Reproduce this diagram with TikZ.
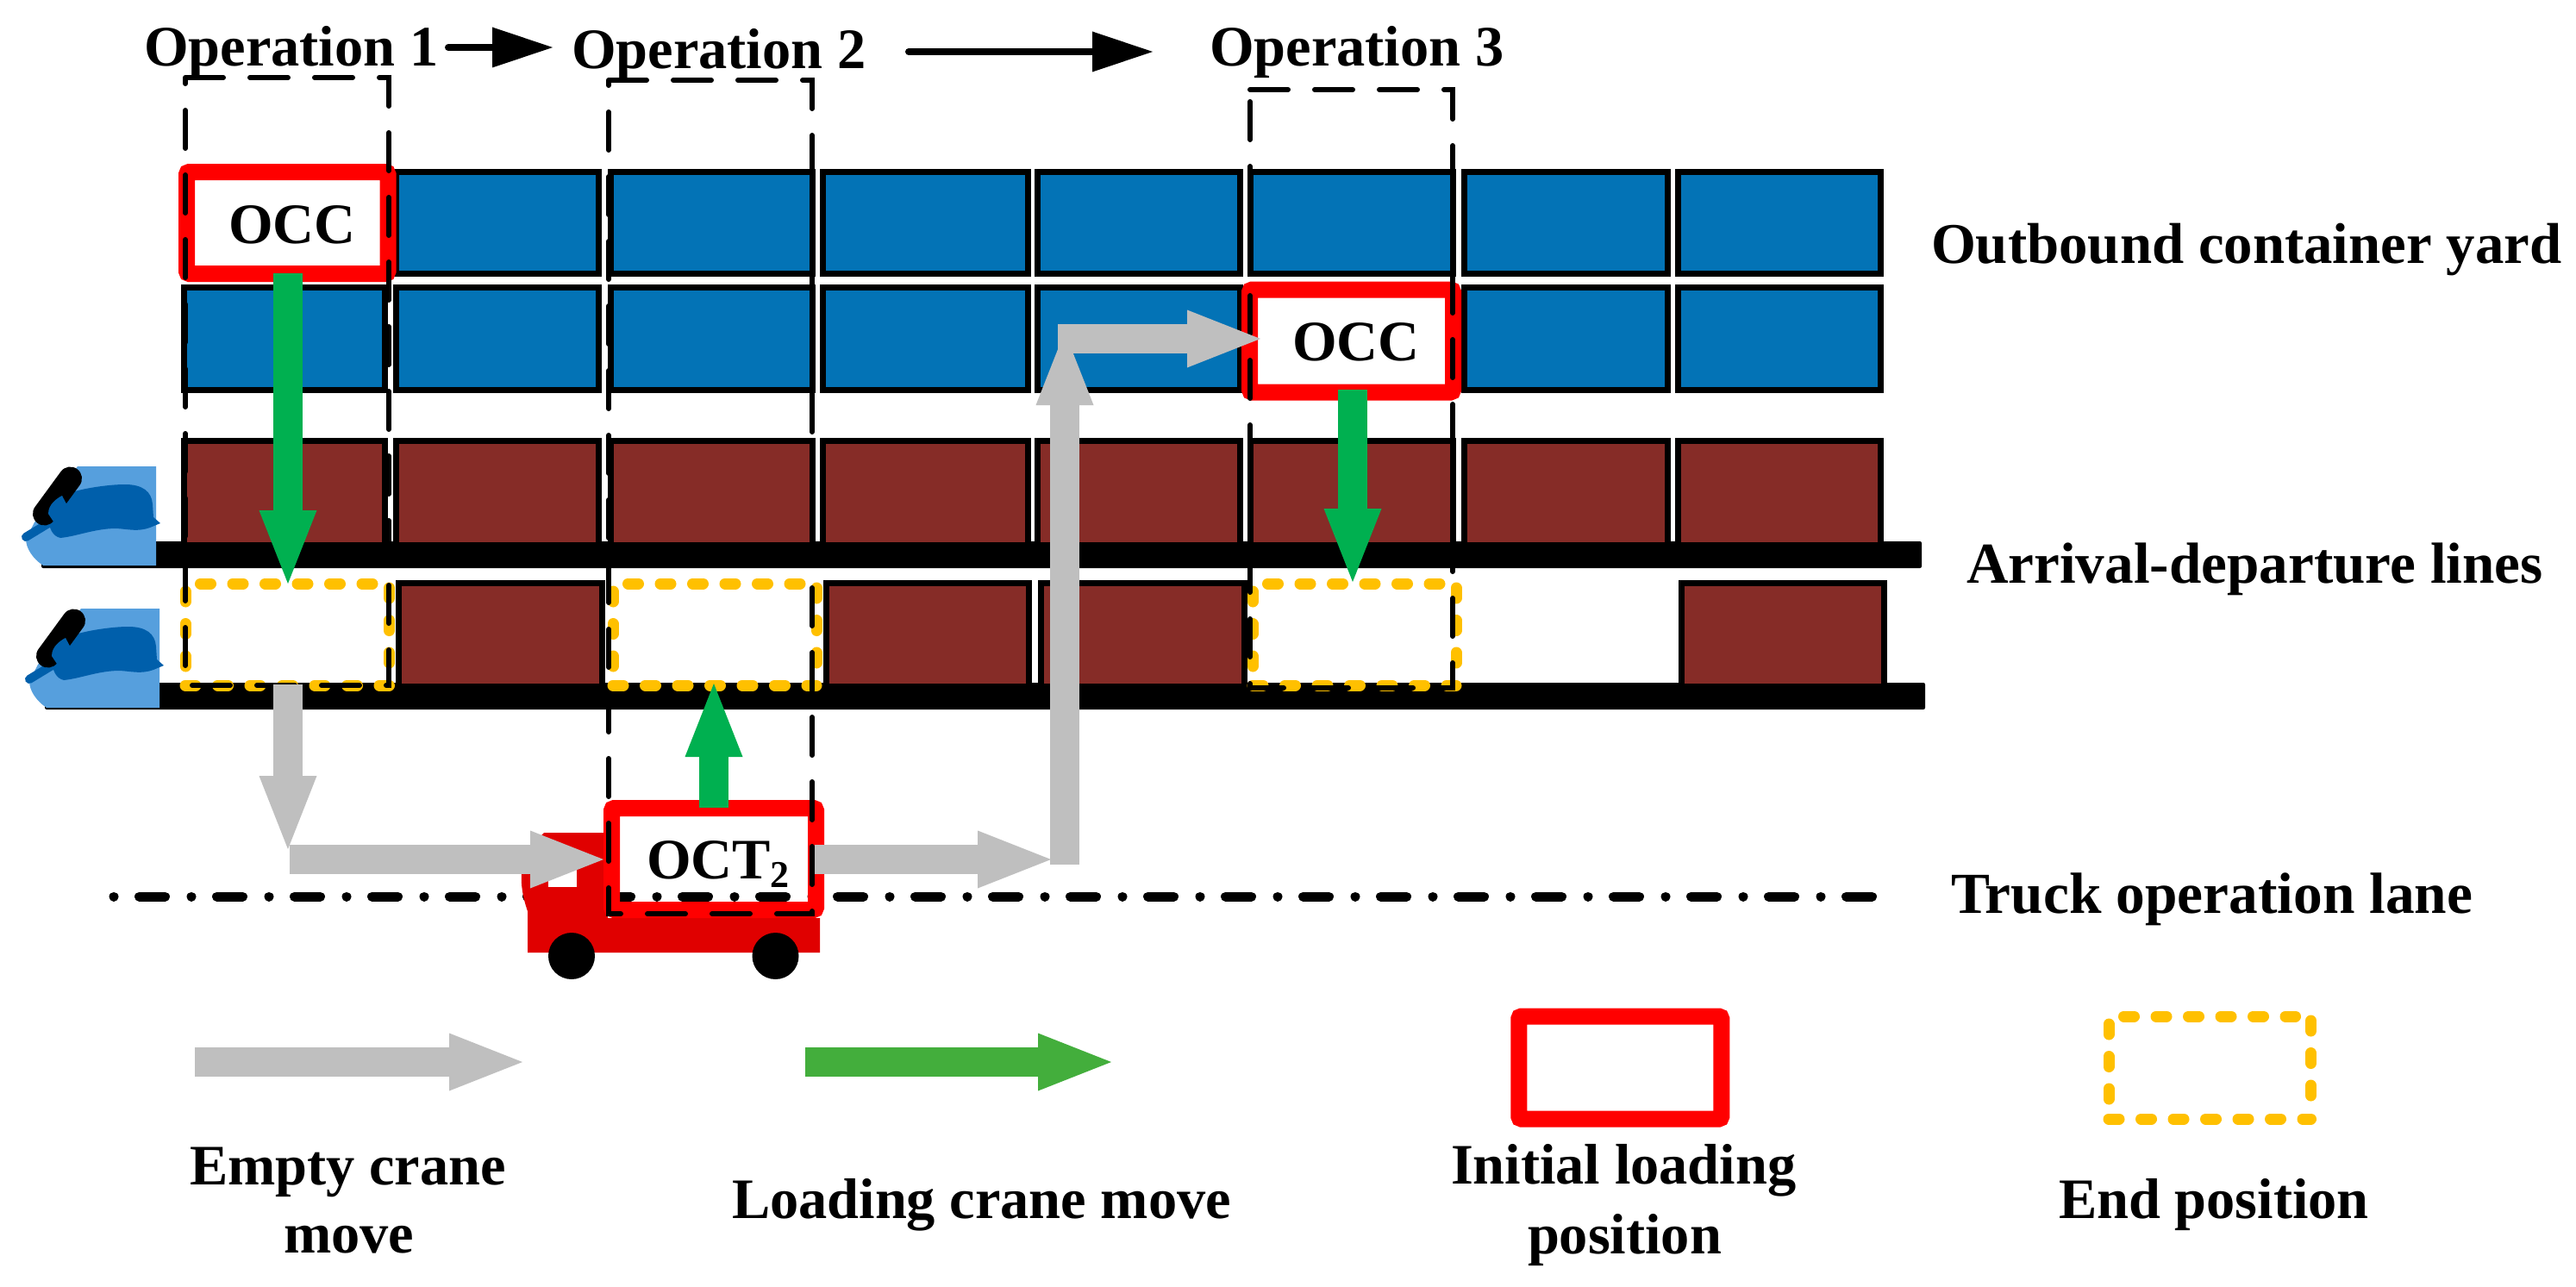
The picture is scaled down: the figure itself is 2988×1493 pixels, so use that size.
\documentclass[tikz,border=0pt]{standalone}
\usepackage{fontspec}
\setmainfont{Liberation Serif}
\usetikzlibrary{arrows.meta}
\definecolor{cblue}{HTML}{0373B6}
\definecolor{cbrown}{HTML}{862C27}
\definecolor{cgreen}{HTML}{00B050}
\definecolor{cgreenb}{HTML}{43AE3C}
\definecolor{cgrey}{HTML}{BFBFBF}
\definecolor{cyellow}{HTML}{FFC000}
\definecolor{ctruck}{HTML}{E00000}
\definecolor{ctrainl}{HTML}{569FDD}
\definecolor{ctraind}{HTML}{005FAB}
\tikzset{
  x=0.5pt,y=-0.5pt,
  lab/.style={anchor=base west,inner sep=0pt,outer sep=0pt,font=\bfseries\fontsize{33.2}{36}\selectfont},
  cont/.style={draw=black,line width=3.25pt},
  railway/.style={fill=black,rounded corners=1pt},
  opbox/.style={draw=black,line width=3pt,line cap=round,dash pattern=on 22pt off 15.5pt},
  endside/.style={draw=cyellow,line width=6.5pt,line cap=round,dash pattern=on 6pt off 12.75pt},
  redframe/.style={draw=red,line width=9.5pt,rounded corners=1.5pt,inner sep=0pt,outer sep=0pt},
  greyarrow/.style={draw=cgrey,line width=17pt,-{Triangle[length=42.5pt,width=33.5pt,fill=cgrey,line width=0pt]}},
  greenarrow/.style={draw=cgreen,line width=17pt,-{Triangle[length=42.5pt,width=33.5pt,fill=cgreen,line width=0pt]}},
  greenlegend/.style={draw=cgreenb,line width=17pt,-{Triangle[length=42.5pt,width=33.5pt,fill=cgreenb,line width=0pt]}},
  blackarrow/.style={draw=black,line width=4pt,line cap=round,-{Triangle[length=35pt,width=23.5pt,line width=0pt]}},
  lane/.style={draw=black,line width=5.5pt,line cap=round,dash pattern=on 0.01pt off 14.75pt on 15pt off 15.24pt},
}
\newcommand{\contrect}[5]{\draw[cont,fill=#5] (#1,#3) rectangle (#2,#4);}
\newcommand{\yellowbox}[4]{%
  \draw[endside] ({#1+17.5},#3) -- (#2-18,#3);
  \draw[endside] (#1,#4) -- (#2,#4);
  \draw[endside] (#1,#3+9) -- (#1,#4-18);
  \draw[endside] (#2,#3+5) -- (#2,#4-18);
}
\newcommand{\trainshape}{%
  \fill[ctrainl] (90,541) -- (181,541) -- (181,656) -- (50,656)
    .. controls (38,648) and (30,636) .. (30,625) -- (40,606) -- cycle;
  \draw[ctraind,line width=5pt,line cap=round] (30,623) -- (58,606);
  \fill[ctraind] (56,596) .. controls (56,585) and (66,578) .. (72,575)
    .. controls (90,567) and (125,562) .. (145,562)
    .. controls (165,562) and (176,570) .. (177,585) -- (178,600) -- (186,607) -- (174,612)
    .. controls (160,617) and (150,614) .. (135,613)
    .. controls (110,613) and (90,622) .. (70,624)
    .. controls (62,622) and (56,615) .. (56,596) -- cycle;
  \draw[black,line width=13.5pt,line cap=round] (81.5,555) -- (51.5,596);
  \fill[ctraind] (56,596) .. controls (56,585) and (66,578) .. (72,575) -- (80,590) -- (62,605) -- cycle;
}
\begin{document}
\begin{tikzpicture}
\useasboundingbox (0,0) rectangle (2988,1493);
\fill[white] (0,0) rectangle (2988,1493);

% rails
\fill[railway] (48,628) rectangle (2229,659);
\fill[railway] (52,792) rectangle (2233,823);

% containers
\foreach \a/\b in {456/698,705/946,951/1196,1200/1442,1447/1689,1695/1938,1943/2185}
  \contrect{\a+3.5}{\b-3.5}{199.5}{317.5}{cblue};
\foreach \a/\b in {210/450,456/698,705/946,951/1196,1200/1442,1447/1689,1695/1938,1943/2185}
  \contrect{\a+3.5}{\b-3.5}{333.5}{452.5}{cblue};
\foreach \a/\b in {210/450,456/698,705/946,951/1196,1200/1442,1447/1689,1695/1938,1943/2185}
  \contrect{\a+3.5}{\b-3.5}{511.5}{632}{cbrown};
\foreach \a/\b in {459/702,955/1197,1204/1447,1947/2189}
  \contrect{\a+3.5}{\b-3.5}{676.5}{796}{cbrown};

% trains
\trainshape
\begin{scope}[shift={(4,165)}]\trainshape\end{scope}

% lane
\draw[lane] (132,1040) -- (2172,1040);

% truck
\fill[ctruck] (631,966) -- (705,966) -- (705,1065) -- (951,1065) -- (951,1105) -- (612,1105) -- (612,1057)
  .. controls (606,1040) and (604,1025) .. (605,1013) -- (612,985) -- cycle;
\fill[white] (636,1000) rectangle (669,1029);
\fill[black] (663,1109) circle (13.5pt);
\fill[black] (899.5,1109) circle (13.5pt);

% end positions
\yellowbox{215}{451.5}{677}{795}
\yellowbox{711}{947}{677}{795}
\yellowbox{1453}{1689}{677}{795}

% initial positions
\node[redframe,fill=white,minimum width=116.75pt,minimum height=59pt] (occa) at (333.25,258.5) {};
\node[redframe,fill=white,minimum width=118pt,minimum height=59.5pt] (occb) at (1567.5,395.5) {};
\node[redframe,minimum width=118.5pt,minimum height=59pt] (octa) at (828,996.5) {};

% operation boxes
\draw[opbox] (215,90) -- (451,90) -- (451,795) -- (215,795) -- cycle;
\draw[opbox] (706,93) -- (942,93) -- (942,1060) -- (706,1060) -- cycle;
\draw[opbox] (1450,104) -- (1685,104) -- (1685,798) -- (1450,798) -- cycle;

% labels in boxes
\node[lab] (occat) at (265,282) {OCC};
\node[lab] (occbt) at (1499,418) {OCC};
\node[lab] (octat) at (750,1019) {OCT\raisebox{-5pt}{\fontsize{22}{24}\selectfont 2}};

% named ends
\coordinate (ga1) at (334,317);   \coordinate (ga2) at (334,677);
\coordinate (gb1) at (1569,452);  \coordinate (gb2) at (1569,675);
\coordinate (gc1) at (828,937);   \coordinate (gc2) at (828,793);
\coordinate (ea1) at (334,794);   \coordinate (ea2) at (334,985);
\coordinate (eb1) at (336,997);   \coordinate (eb2) at (700,997);
\coordinate (ec1) at (945,997);   \coordinate (ec2) at (1219,997);
\coordinate (ed1) at (1235,1003); \coordinate (ed2) at (1235,385);
\coordinate (ee1) at (1227,393);  \coordinate (ee2) at (1462,393);
\coordinate (la1) at (226,1232);  \coordinate (la2) at (606,1232);
\coordinate (lb1) at (934,1232);  \coordinate (lb2) at (1289,1232);
\coordinate (oa1) at (520,55);    \coordinate (oa2) at (641,55);
\coordinate (ob1) at (1054,60);   \coordinate (ob2) at (1337,60);

\draw[greyarrow] (ea1) -- (ea2);
\draw[greyarrow] (eb1) -- (eb2);
\draw[greyarrow] (ec1) -- (ec2);
\draw[greyarrow] (ed1) -- (ed2);
\draw[greyarrow] (ee1) -- (ee2);
\draw[greenarrow] (ga1) -- (ga2);
\draw[greenarrow] (gb1) -- (gb2);
\draw[greenarrow] (gc1) -- (gc2);
\draw[blackarrow] (oa1) -- (oa2);
\draw[blackarrow] (ob1) -- (ob2);

% headings
\node[lab] (op1) at (167,77) {Operation 1};
\node[lab] (op2) at (663,80) {Operation 2};
\node[lab] (op3) at (1403,77) {Operation 3};
\node[lab,font=\bfseries\fontsize{33.4}{36}\selectfont] (tyard) at (2240,305) {Outbound container yard};
\node[lab,font=\bfseries\fontsize{33.6}{36}\selectfont] (tarr) at (2281,676) {Arrival-departure lines};
\node[lab,font=\bfseries\fontsize{33.7}{36}\selectfont] (ttruck) at (2263,1059) {Truck operation lane};

% legend
\draw[greyarrow] (la1) -- (la2);
\draw[greenlegend] (lb1) -- (lb2);
\node[redframe,fill=white,minimum width=117.5pt,minimum height=59.5pt] (lred) at (1879.25,1238.5) {};
\yellowbox{2446}{2680.5}{1179}{1298}
\node[lab] (l1a) at (220,1374) {Empty crane};
\node[lab] (l1b) at (329,1453) {move};
\node[lab] (l2) at (849,1413) {Loading crane move};
\node[lab] (l3a) at (1683,1373) {Initial loading};
\node[lab] (l3b) at (1772,1454) {position};
\node[lab] (l4) at (2388,1413) {End position};
\end{tikzpicture}
\end{document}
